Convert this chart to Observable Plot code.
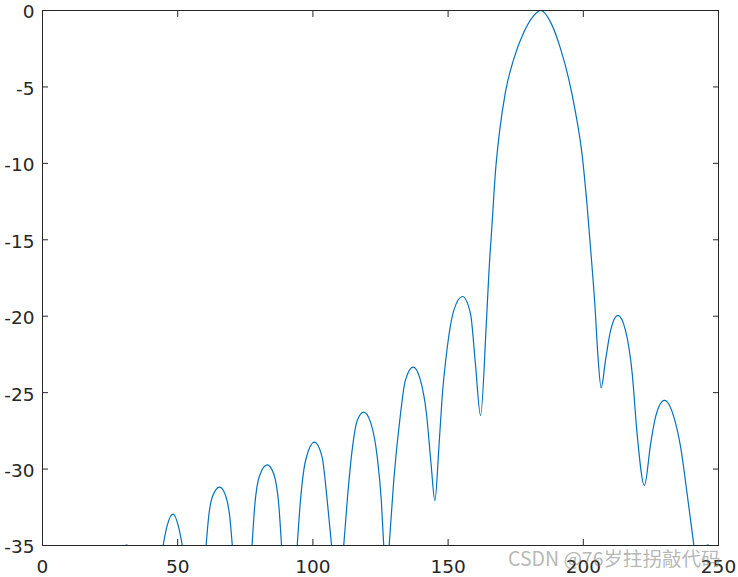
<!DOCTYPE html>
<html>
<head>
<meta charset="utf-8">
<script src="https://cdn.jsdelivr.net/npm/d3@7"></script>
<script src="https://cdn.jsdelivr.net/npm/@observablehq/plot@0.6"></script>
<style>
  html, body { margin: 0; padding: 0; background: #fff; }
  #wrap { position: relative; width: 738px; height: 577px; overflow: hidden; }
  #wm { position: absolute; left: 508px; top: 548px; font: 19.5px/1 "Noto Sans CJK SC", "Liberation Sans", sans-serif; color: rgba(120,120,120,0.55); white-space: nowrap; }
</style>
</head>
<body>
<div id="wrap"><div id="wm">CSDN @76岁拄拐敲代码</div></div>
<script>
// x positions (null = break where the curve drops below -35 dB)
const xs = [
  30.8, 31.4, null,
  44.6, 46.1, 48.3, 50.2, 51.7, null,
  60.5, 61.5, 63.0, 65.5, 67.7, 69.2, 70.2, null,
  77.5, 78.5, 80.3, 83.1, 85.5, 87.4, 88.4, null,
  94.2, 95.4, 97.3, 100.6, 103.4, 105.3, 106.9, null,
  111.4, 112.7, 114.5, 116.4, 118.8, 121.3, 123.8, 125.3, 126.2, null,
  128.2, 129.9, 132.4, 134.2, 137.1, 139.8, 142.0, 143.7, 145.1,
  146.6, 147.8, 149.7, 152.1, 155.3, 158.3, 160.1, 162.0,
  164.1, 165.1, 166.3, 167.5, 169.0, 171.2, 174.3, 178.0, 181.7, 184.3,
  187.9, 191.6, 194.6, 197.1, 199.6, 201.4, 202.9, 204.3, 205.4, 206.6,
  208.2, 210.1, 212.8, 215.6, 218.1, 219.9, 222.6,
  224.9, 226.7, 230.0, 233.5, 236.0, 238.4, 240.9, null,
  245.7, 246.4
];
// dB values
const db = [
  -34.98, -34.98, null,
  -35, -33.7, -32.95, -33.7, -35, null,
  -35, -33.04, -31.73, -31.18, -31.73, -33.04, -35, null,
  -35, -32.38, -30.42, -29.72, -30.31, -32.38, -35, null,
  -35, -32.06, -29.44, -28.24, -29.22, -32.06, -35, null,
  -35, -32.06, -28.78, -26.82, -26.28, -26.93, -29.22, -32.06, -35, null,
  -35, -30.75, -26.38, -24.2, -23.33, -24.2, -26.38, -29.66, -32.06,
  -28.57, -25.3, -22.03, -19.63, -18.71, -19.84, -23.11, -26.5,
  -20.6, -17.12, -13.85, -10.58, -7.96, -5.34, -3.16, -1.42, -0.33, 0,
  -0.76, -2.51, -4.47, -6.65, -9.49, -12.76, -16.03, -19.3, -22.57, -24.68,
  -22.9, -20.93, -19.95, -20.93, -23.77, -27.7, -31.07,
  -28.35, -26.6, -25.51, -26.6, -28.57, -31.62, -35, null,
  -34.97, -34.97
];
const xTicks = [0, 50, 100, 150, 200, 250];
const yTicks = [0, -5, -10, -15, -20, -25, -30, -35];

const data = xs.map((x, i) => ({x, y: db[i]}));
const axisColor = "#262626";
const blank = () => "";

const chart = Plot.plot({
  width: 738,
  height: 577,
  marginLeft: 42,
  marginRight: 20,
  marginTop: 10,
  marginBottom: 32,
  style: {fontFamily: "'DejaVu Sans', 'Liberation Sans', sans-serif", fontSize: "18.5px", color: axisColor, background: "#fff", overflow: "visible"},
  x: {domain: [0, 250]},
  y: {domain: [-35, 0]},
  marks: [
    Plot.line(data, {x: "x", y: "y", stroke: "#0072BD", strokeWidth: 1.2, curve: "monotone-x", clip: true,
      defined: d => d.x != null && d.y != null}),
    Plot.frame({stroke: axisColor, strokeWidth: 1}),
    // inward tick marks on all four sides
    Plot.axisX(xTicks, {anchor: "bottom", tickSize: -6, tickFormat: blank, label: null, stroke: axisColor}),
    Plot.axisX(xTicks, {anchor: "top", tickSize: -6, tickFormat: blank, label: null, stroke: axisColor}),
    Plot.axisY(yTicks, {anchor: "left", tickSize: -6, tickFormat: blank, label: null, stroke: axisColor}),
    Plot.axisY(yTicks, {anchor: "right", tickSize: -6, tickFormat: blank, label: null, stroke: axisColor}),
    // tick labels
    Plot.axisX(xTicks, {anchor: "bottom", tickSize: 0, tickPadding: 14, tickFormat: d => String(d), label: null, fill: axisColor}),
    Plot.axisY(yTicks, {anchor: "left", tickSize: 0, tickPadding: 8, tickFormat: d => String(d), label: null, fill: axisColor, dy: 2})
  ]
});
document.getElementById("wrap").prepend(chart);
</script>
</body>
</html>
